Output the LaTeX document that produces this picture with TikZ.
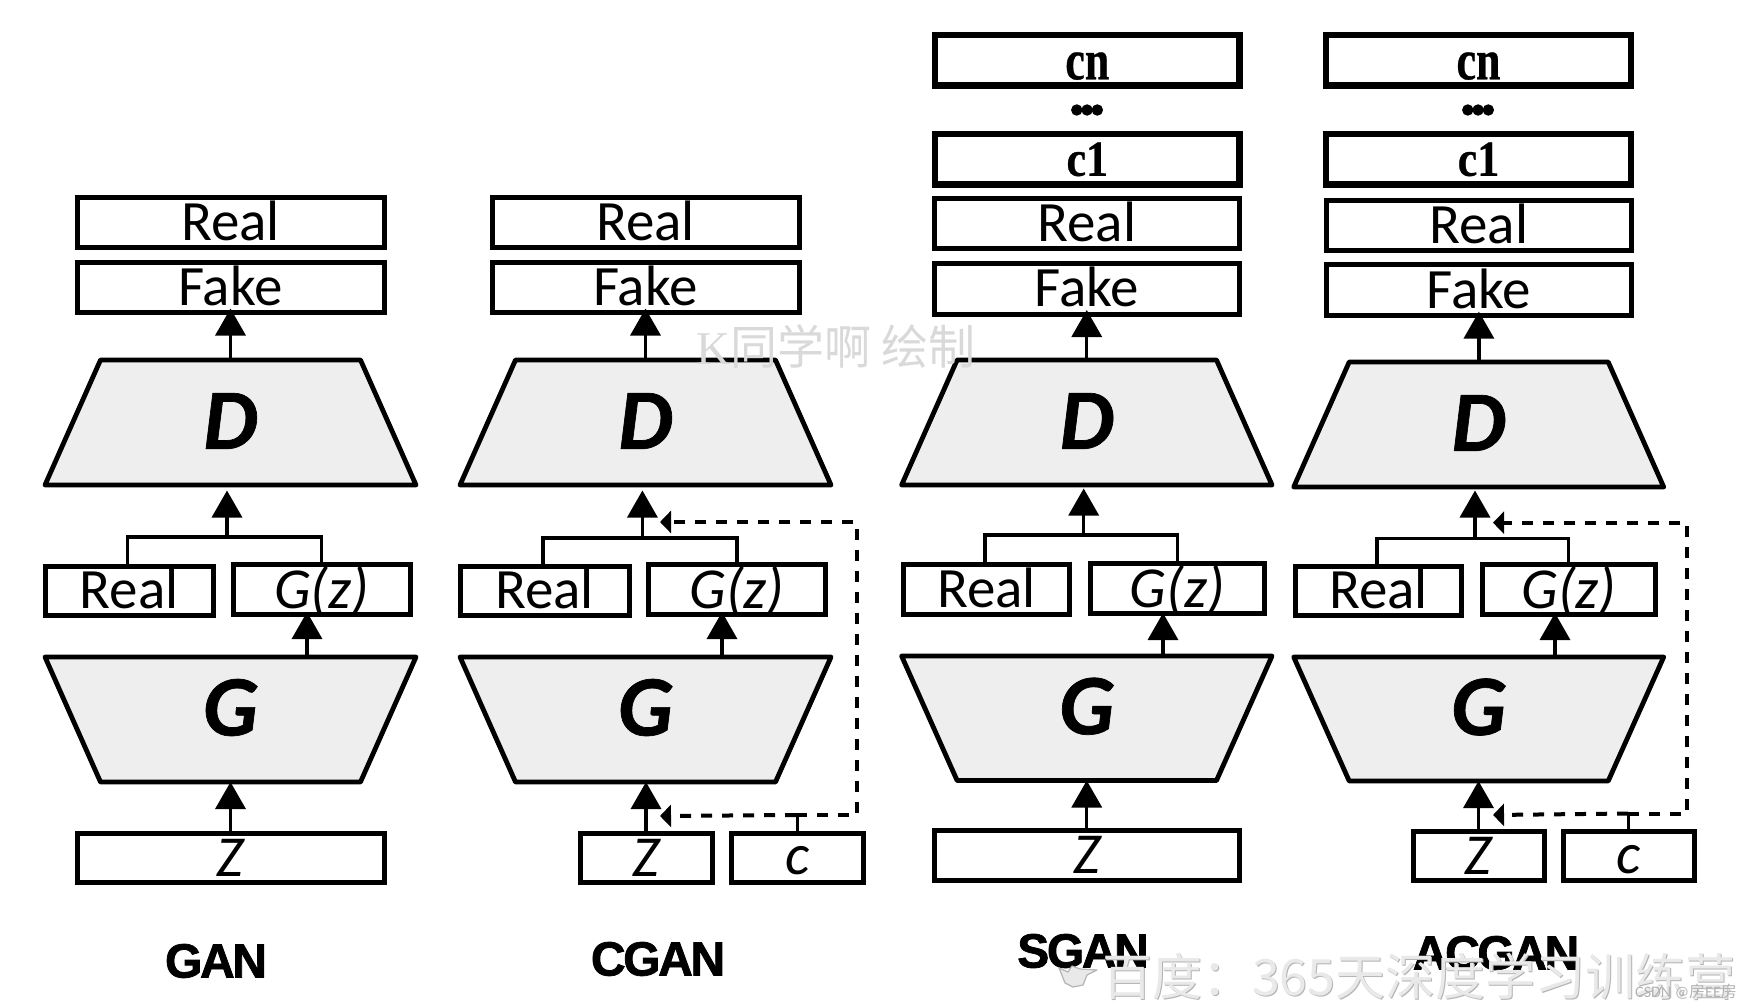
\documentclass[tikz,border=0pt]{standalone}
\usepackage{fontspec}
\setmainfont{Carlito}
\newfontfamily\serf{Liberation Serif}
\newfontfamily\dotf[FakeBold=1.5,LetterSpace=-9]{Liberation Serif}
\newfontfamily\toplab[FakeBold=0.6]{Liberation Serif}
\newfontfamily\labf[FakeBold=1.6,LetterSpace=-5]{Liberation Sans}
\newfontfamily\netf[FakeBold=0.8]{Carlito}
\newfontfamily\cjkf{Noto Sans CJK SC}
\usetikzlibrary{arrows.meta,calc}
\definecolor{trapfill}{HTML}{EEEEEE}
\definecolor{wmark}{HTML}{D9D9D9}
\definecolor{wlight}{HTML}{E9E9E9}
\definecolor{wshade}{HTML}{B4B4B4}
\tikzset{
  x=1pt,y=-1pt,
  box/.style={draw=black,line width=5pt,fill=white,inner sep=0pt,outer sep=0pt,
    font=\fontsize{57}{57}\selectfont},
  ibox/.style={box,font=\fontsize{58}{58}\selectfont\itshape},
  tbox/.style={box,line width=6.5pt,font=\fontsize{44}{44}\toplab\bfseries},
  trap/.style={draw=black,line width=4.8pt,fill=trapfill,line join=round},
  net/.style={inner sep=0pt,outer sep=0pt,font=\fontsize{86}{86}\netf\bfseries\itshape},
  arr/.style={line width=3.4pt,-{Triangle[length=27pt,width=30pt]}},
  wire/.style={line width=3.4pt},
  dashln/.style={line width=4pt,dash pattern=on 11pt off 10pt},
  dasharr/.style={dashln,-{Triangle[length=11pt,width=22pt]}},
  dots/.style={inner sep=0pt,font=\fontsize{64}{64}\dotf\bfseries},
  title/.style={inner sep=0pt,font=\fontsize{48}{48}\labf\bfseries},
}
% name, x1, y1, x2, y2, style, text
\newcommand\bx[7]{\node[#6,minimum width={(#4)-(#2)},minimum height={(#5)-(#3)}] (#1) at ({((#2)+(#4))/2},{((#3)+(#5))/2}) {#7};}
\newcommand\dnet[6]{\draw[trap] ({#2+#4},#5) -- ({#3-#4},#5) -- (#3,#6) -- (#2,#6) -- cycle;
  \path ({(#2+#3)/2},#5) coordinate (#1n) ({(#2+#3)/2},#6) coordinate (#1s);
  \node[net] (#1) at ({(#2+#3)/2},{(#5+#6)/2-1.5}) {D};}
\newcommand\gnet[6]{\draw[trap] (#2,#5) -- (#3,#5) -- ({#3-#4},#6) -- ({#2+#4},#6) -- cycle;
  \path ({(#2+#3)/2},#5) coordinate (#1n) ({(#2+#3)/2},#6) coordinate (#1s);
  \node[net] (#1) at ({(#2+#3)/2},{(#5+#6)/2-12}) {G};}
\newcommand\tcn{\raisebox{-5.5pt}[\height][0pt]{\scalebox{1}[1.3]{cn}}}
\newcommand\tco{\scalebox{1}[1.15]{c1}}
\newcommand\treal{\raisebox{2pt}[\height][0pt]{Real}}
\newcommand\tfake{\raisebox{2pt}[\height][0pt]{Fake}}
\newcommand\tgz{\raisebox{-2pt}[\height][\depth]{G(z)}}
\newcommand\tc{\raisebox{-3pt}[\height][0pt]{c}}
\begin{document}
\begin{tikzpicture}
\useasboundingbox[fill=white] (0,0) rectangle (1742,1008);

% ---------- GAN ----------
\bx{ra}{77}{198}{384}{247.5}{box}{\treal}
\bx{fa}{77}{263}{384}{312.5}{box}{\tfake}
\dnet{da}{45}{416}{55.5}{360}{485}
\gnet{ga}{45}{416}{55.5}{657}{782}
\bx{ma}{45}{566}{213}{615}{box}{\treal}
\bx{za}{233}{565}{410}{614}{ibox}{\tgz}
\bx{xa}{77}{833}{384}{882.5}{ibox}{Z}
\draw[arr] (fa.south |- dan) -- ([yshift=4pt]fa.south);
\coordinate (ja) at (227,537);
\draw[arr] (ja) -- (227,490.5);
\draw[wire] (ma.north -| 127.5,0) |- (ja) -| (za.north);
\draw[arr] (307,657) -- (307,612);
\draw[arr] (xa.north) -- (xa.north |- gas);
\node[title] (ta) at (216,961) {GAN};

% ---------- CGAN ----------
\bx{rb}{492}{198}{799}{247.5}{box}{\treal}
\bx{fb}{492}{263}{799}{312.5}{box}{\tfake}
\dnet{db}{460}{831}{55.5}{360}{485}
\gnet{gb}{460}{831}{55.5}{657}{782}
\bx{mb}{460}{566}{629}{615}{box}{\treal}
\bx{zb}{648.4}{565}{825.6}{614}{ibox}{\tgz}
\bx{xb}{580}{833}{712}{882.5}{ibox}{Z}
\bx{cb}{731}{833}{863.5}{882.5}{ibox}{\tc}
\draw[arr] (fb.south |- dbn) -- ([yshift=4pt]fb.south);
\coordinate (jb) at (642.4,538);
\draw[arr] (jb) -- (642.4,490.5);
\draw[wire] (mb.north -| 543,0) |- (jb) -| (zb.north);
\draw[arr] (722,657) -- (722,612);
\draw[arr] (xb.north) -- (xb.north |- gbs);
\coordinate (tb) at (796,815);
\draw[wire] (tb -| cb.north) -- (cb.north);
\draw[dasharr] (tb) -- (856.5,815) -- (856.5,522) -- (660,522);
\draw[dasharr] (tb) -- (660,816);
\node[title] (lb) at (658,959) {CGAN};

% ---------- SGAN ----------
\bx{nc}{935}{35}{1239.6}{85.7}{tbox}{\tcn}
\node[dots] (pc) at (1087,110) {...};
\bx{oc}{935}{134}{1239.6}{184.7}{tbox}{\tco}
\bx{rc}{934}{198.7}{1239.5}{249}{box}{\treal}
\bx{fc}{934}{263.7}{1239.5}{314}{box}{\tfake}
\dnet{dc}{901.6}{1272}{55.5}{360}{485}
\gnet{gc}{901.6}{1272}{55.5}{656}{780.5}
\bx{mc}{903.6}{564.7}{1069.3}{614.3}{box}{\treal}
\bx{zc}{1090}{563.7}{1264.5}{613.3}{ibox}{\tgz}
\bx{xc}{934}{830}{1239.5}{880}{ibox}{Z}
\draw[arr] (fc.south |- dcn) -- ([yshift=4pt]fc.south);
\coordinate (jc) at (1083.7,535);
\draw[arr] (jc) -- (1083.7,488.5);
\draw[wire] (mc.north -| 985,0) |- (jc) -| (zc.north);
\draw[arr] (1163,656) -- (1163,613);
\draw[arr] (xc.north) -- (xc.north |- gcs);
\node[title] (lc) at (1083,951) {SGAN};

% ---------- ACGAN ----------
\bx{nd}{1326}{35}{1631}{85.7}{tbox}{\tcn}
\node[dots] (pd) at (1478,110) {...};
\bx{od}{1326}{134}{1631}{184.7}{tbox}{\tco}
\bx{rd}{1326.3}{200.7}{1631.5}{250.6}{box}{\treal}
\bx{fd}{1326.3}{265}{1631.5}{315.6}{box}{\tfake}
\dnet{dd}{1293.7}{1663.7}{55.5}{362}{487}
\gnet{gd}{1293.7}{1663.7}{55.5}{657}{781}
\bx{md}{1295.7}{566}{1461.3}{615.6}{box}{\treal}
\bx{zd}{1482}{564.7}{1655.5}{614}{ibox}{\tgz}
\bx{xd}{1413}{831.3}{1544}{880.6}{ibox}{Z}
\bx{cd}{1563}{831.3}{1694.5}{880.6}{ibox}{\tc}
\draw[arr] (fd.south |- ddn) -- ([yshift=4pt]fd.south);
\coordinate (jd) at (1475,538.3);
\draw[arr] (jd) -- (1475,490.5);
\draw[wire] (md.north -| 1377,0) |- (jd) -| (zd.north);
\draw[arr] (1555,657) -- (1555,613);
\draw[arr] (xd.north) -- (xd.north |- gds);
\coordinate (td) at (1628,813.5);
\draw[wire] (td -| cd.north) -- (cd.north);
\draw[dasharr] (td) -- (1687.3,813.5) -- (1687.3,522.7) -- (1493,522.7);
\draw[dasharr] (td) -- (1493,815);
\node[title] (ld) at (1496,953) {ACGAN};

% ---------- watermarks ----------
\node[inner sep=0pt,text=wmark,font=\fontsize{47}{47}\cjkf] (wa) at (836,346)
  {{\serf K}同学啊 绘制};
\node[inner sep=0pt,text=wshade,font=\fontsize{50}{50}\cjkf,anchor=west] (wbs) at (1103,977)
  {百度：365天深度学习训练营};
\node[inner sep=0pt,text=wlight,font=\fontsize{50}{50}\cjkf,anchor=west] (wb) at (1102,976)
  {百度：365天深度学习训练营};
\draw[wshade,fill=wlight,line width=1.2pt,line join=round]
  (1059,968) -- (1065,983) -- (1073,987) -- (1083,985) -- (1087,975) -- (1097,970)
  -- (1080,969) -- (1072,966) -- (1068,972) -- cycle;
\node[inner sep=0pt,text=wshade,font=\fontsize{16}{16}\selectfont,anchor=west] (wc) at (1635,992)
  {CSDN @{\cjkf 房}EE{\cjkf 房}};
\end{tikzpicture}
\end{document}
